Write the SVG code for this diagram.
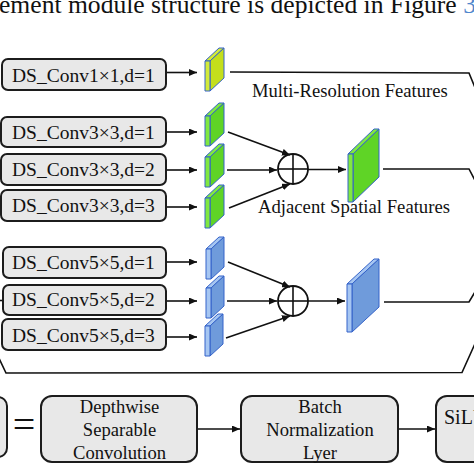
<svg xmlns="http://www.w3.org/2000/svg" width="474" height="474" viewBox="0 0 474 474">
<defs>
<style>
.bx{fill:#e8e8e8;stroke:#1c1c1c;stroke-width:2}
.t{font-family:"Liberation Serif","Times New Roman",serif;fill:#111}
.lbl{font-size:19.5px}
.ln{fill:none;stroke:#111;stroke-width:1.6}
.fm{stroke:#3563c9;stroke-width:1;stroke-linejoin:round}
.yF{fill:#d2ea3a}.yS{fill:#c4df1c}
.gF{fill:#80e840}.gS{fill:#5fd426}
.bF{fill:#a6c6f2}.bS{fill:#6f9bdb}
.circ{fill:none;stroke:#111;stroke-width:1.8}
</style>
<marker id="ah" markerWidth="8" markerHeight="7" refX="8" refY="3.5" orient="auto" markerUnits="userSpaceOnUse">
<path d="M0,0 L8,3.5 L0,7 z" fill="#111"/>
</marker>
</defs>
<rect width="474" height="474" fill="#fff"/>

<text class="t" x="-1" y="13" font-size="25.6">ement module structure is depicted in Figure <tspan fill="#4f86cc">3</tspan></text>

<g id="connectors">
<line class="ln" x1="166" y1="72.5" x2="197" y2="72.5" marker-end="url(#ah)"/>
<line class="ln" x1="166" y1="132" x2="197" y2="132" marker-end="url(#ah)"/>
<line class="ln" x1="166" y1="170" x2="197" y2="170" marker-end="url(#ah)"/>
<line class="ln" x1="166" y1="207" x2="197" y2="207" marker-end="url(#ah)"/>
<line class="ln" x1="166" y1="262" x2="197" y2="262" marker-end="url(#ah)"/>
<line class="ln" x1="166" y1="301" x2="197" y2="301" marker-end="url(#ah)"/>
<line class="ln" x1="166" y1="337" x2="197" y2="337" marker-end="url(#ah)"/>
<line class="ln" x1="228" y1="132" x2="290" y2="155" marker-end="url(#ah)"/>
<line class="ln" x1="227" y1="170" x2="277" y2="170" marker-end="url(#ah)"/>
<line class="ln" x1="229" y1="208" x2="290" y2="184" marker-end="url(#ah)"/>
<line class="ln" x1="308" y1="169.5" x2="346" y2="169.5" marker-end="url(#ah)"/>
<line class="ln" x1="228" y1="262" x2="290" y2="287" marker-end="url(#ah)"/>
<line class="ln" x1="227" y1="301" x2="277" y2="301" marker-end="url(#ah)"/>
<line class="ln" x1="226" y1="338" x2="290" y2="316" marker-end="url(#ah)"/>
<line class="ln" x1="308" y1="301" x2="345" y2="301" marker-end="url(#ah)"/>
<polyline class="ln" points="230,72 469,73 478,95"/>
<polyline class="ln" points="383,169 469,169 478,186"/>
<polyline class="ln" points="384,302 469,302 478,287"/>
<polyline class="ln" points="-3,354 6,373 462,372.5 478,337"/>
<line class="ln" x1="0" y1="300.5" x2="4" y2="300.5"/>
<line class="ln" x1="197" y1="429" x2="240" y2="429" marker-end="url(#ah)"/>
<line class="ln" x1="398" y1="429" x2="435" y2="429" marker-end="url(#ah)"/>
</g>

<g id="box-1x1"><rect class="bx" x="2" y="59" width="164" height="31" rx="6"/><text class="t lbl" x="12" y="82">DS_Conv1×1,d=1</text></g>
<g id="box-3x3-1"><rect class="bx" x="1" y="117" width="165" height="30" rx="6"/><text class="t lbl" x="12" y="139">DS_Conv3×3,d=1</text></g>
<g id="box-3x3-2"><rect class="bx" x="1" y="154" width="165" height="31" rx="6"/><text class="t lbl" x="12" y="176">DS_Conv3×3,d=2</text></g>
<g id="box-3x3-3"><rect class="bx" x="1" y="190" width="165" height="31" rx="6"/><text class="t lbl" x="12" y="212">DS_Conv3×3,d=3</text></g>
<g id="box-5x5-1"><rect class="bx" x="3" y="247" width="163" height="31" rx="6"/><text class="t lbl" x="12" y="269">DS_Conv5×5,d=1</text></g>
<g id="box-5x5-2"><rect class="bx" x="3" y="285" width="163" height="30" rx="6"/><text class="t lbl" x="12" y="306">DS_Conv5×5,d=2</text></g>
<g id="box-5x5-3"><rect class="bx" x="2" y="319" width="164" height="31" rx="6"/><text class="t lbl" x="12" y="342">DS_Conv5×5,d=3</text></g>

<g id="fm-yellow" transform="translate(205,61)">
<polygon class="fm yF" points="0,0 14,-13 19,-13 5,0"/>
<polygon class="fm yS" points="5,0 19,-13 19,17 5,30"/>
<polygon class="fm yF" points="0,0 5,0 5,30 0,30"/>
</g>
<g id="fm-green-1" transform="translate(205,116)">
<polygon class="fm gF" points="0,0 14,-13 19,-13 5,0"/>
<polygon class="fm gS" points="5,0 19,-13 19,17 5,30"/>
<polygon class="fm gF" points="0,0 5,0 5,30 0,30"/>
</g>
<g id="fm-green-2" transform="translate(205,157)">
<polygon class="fm gF" points="0,0 14,-13 19,-13 5,0"/>
<polygon class="fm gS" points="5,0 19,-13 19,17 5,30"/>
<polygon class="fm gF" points="0,0 5,0 5,30 0,30"/>
</g>
<g id="fm-green-3" transform="translate(205,198)">
<polygon class="fm gF" points="0,0 14,-13 19,-13 5,0"/>
<polygon class="fm gS" points="5,0 19,-13 19,17 5,30"/>
<polygon class="fm gF" points="0,0 5,0 5,30 0,30"/>
</g>
<g id="fm-blue-1" transform="translate(206,249)">
<polygon class="fm bF" points="0,0 13,-12 18,-12 5,0"/>
<polygon class="fm bS" points="5,0 18,-12 18,18 5,30"/>
<polygon class="fm bF" points="0,0 5,0 5,30 0,30"/>
</g>
<g id="fm-blue-2" transform="translate(206,288)">
<polygon class="fm bF" points="0,0 13,-12 18,-12 5,0"/>
<polygon class="fm bS" points="5,0 18,-12 18,18 5,30"/>
<polygon class="fm bF" points="0,0 5,0 5,30 0,30"/>
</g>
<g id="fm-blue-3" transform="translate(205,326)">
<polygon class="fm bF" points="0,0 13,-12 18,-12 5,0"/>
<polygon class="fm bS" points="5,0 18,-12 18,18 5,30"/>
<polygon class="fm bF" points="0,0 5,0 5,30 0,30"/>
</g>

<g id="sum-green"><circle class="circ" cx="293" cy="169" r="15"/><line class="ln" x1="278" y1="169" x2="308" y2="169"/><line class="ln" x1="293" y1="154" x2="293" y2="184"/></g>
<g id="sum-blue"><circle class="circ" cx="293" cy="301" r="15"/><line class="ln" x1="278" y1="301" x2="308" y2="301"/><line class="ln" x1="293" y1="286" x2="293" y2="316"/></g>

<g id="fm-green-big" transform="translate(348,154)">
<polygon class="fm gF" points="0,0 26,-25 31,-25 5,0"/>
<polygon class="fm gS" points="5,0 31,-25 31,23 5,48"/>
<polygon class="fm gF" points="0,0 5,0 5,48 0,48"/>
</g>
<g id="fm-blue-big" transform="translate(347,284)">
<polygon class="fm bF" points="0,0 27,-25 32,-25 5,0"/>
<polygon class="fm bS" points="5,0 32,-25 32,23 5,48"/>
<polygon class="fm bF" points="0,0 5,0 5,48 0,48"/>
</g>

<text class="t" x="252" y="97" font-size="18.6">Multi-Resolution Features</text>
<text class="t" x="258" y="213" font-size="18.7">Adjacent Spatial Features</text>

<g id="box-ds-partial"><rect class="bx" x="-60" y="397" width="67" height="60" rx="9"/></g>
<text class="t" x="24" y="438" font-size="40" text-anchor="middle">=</text>
<g id="box-depthwise"><rect class="bx" x="41" y="396" width="156" height="66" rx="11"/>
<text class="t" font-size="18.6" text-anchor="middle"><tspan x="119.5" y="413">Depthwise</tspan><tspan x="119.5" y="436">Separable</tspan><tspan x="119.5" y="459">Convolution</tspan></text></g>
<g id="box-bn"><rect class="bx" x="241" y="396" width="157" height="66" rx="11"/>
<text class="t" font-size="18.6" text-anchor="middle"><tspan x="320" y="413">Batch</tspan><tspan x="320" y="436">Normalization</tspan><tspan x="320" y="459">Lyer</tspan></text></g>
<g id="box-silu"><rect class="bx" x="436" y="396" width="80" height="66" rx="11"/>
<text class="t" font-size="20" x="444" y="424">SiLU</text></g>
</svg>
